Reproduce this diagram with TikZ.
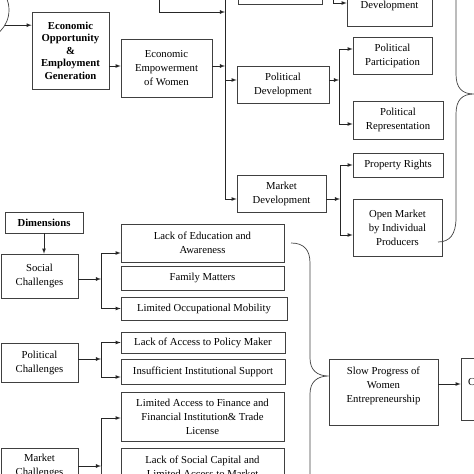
\documentclass[tikz,border=0pt]{standalone}
\usepackage{fontspec}
\setmainfont{Liberation Serif}
\begin{document}
\begin{tikzpicture}
[
x=1pt,y=-1pt,
box/.style={draw=black!75,line width=0.7pt,align=center,inner sep=1pt,font=\fontsize{10.7}{14}\selectfont},
boldbox/.style={box,font=\bfseries\fontsize{10.7}{12.5}\selectfont},
sized/.style 2 args={minimum width=#1pt,minimum height=#2pt},
arr/.style={draw=black!85,line width=0.75pt,-latex},
curly/.style={draw=black!75,line width=0.7pt},
]
\useasboundingbox (0,0) rectangle (474,474);

%Place the nodes
\node[circle,curly,minimum size=60pt,inner sep=0pt] (core) at (-21,10) {};
\node[boldbox,sized={77}{77}] (eog) at (70.5,50.5) {Economic\\Opportunity\\\&\\Employment\\Generation};
\node[box,sized={91}{58}] (eew) at (166.5,68) {Economic\\Empowerment\\of Women};
\node[box,sized={84}{40}] (topbox) at (280,-16) {};
\node[box,sized={85}{46}] (tr) at (389.5,3) {\mbox{}\\Development};
\node[box,sized={92}{37}] (pd) at (283,84.5) {Political\\Development};
\node[box,sized={79}{37}] (pp) at (392.5,55.5) {Political\\Participation};
\node[box,sized={90}{38}] (pr) at (398,120) {Political\\Representation};
\node[box,sized={89}{37}] (md) at (281.5,193.5) {Market\\Development};
\node[box,sized={90}{24}] (prop) at (398,165) {Property Rights};
\node[box,sized={89}{57}] (om) at (397.5,227.5) {Open Market\\by Individual\\Producers};
\node[boldbox,sized={78}{21}] (dim) at (44,222.5) {Dimensions};
\node[box,sized={77}{44}] (sc) at (39.5,276) {Social\\Challenges};
\node[box,sized={77}{39}] (pc) at (39.5,362.5) {Political\\Challenges};
\node[box,sized={77}{36}] (mc) at (39.5,466) {Market\\Challenges};
\node[box,sized={163}{38}] (le) at (202.5,243) {Lack of Education and\\Awareness};
\node[box,sized={163}{24}] (fm) at (202.5,278) {Family Matters};
\node[box,sized={166}{23}] (lom) at (204,308.5) {Limited Occupational Mobility};
\node[box,sized={164}{21}] (lapm) at (203,342.5) {Lack of Access to Policy Maker};
\node[box,sized={164}{25}] (iis) at (203,371.5) {Insufficient Institutional Support};
\node[box,sized={163}{49}] (laf) at (202.5,416.5) {Limited Access to Finance and\\Financial Institution\& Trade\\License};
\node[box,sized={163}{38}] (lsc) at (202.5,467) {Lack of Social Capital and\\Limited Access to Market};
\node[box,sized={109}{66}] (spwe) at (383.5,392) {Slow Progress of\\Women\\Entrepreneurship\\\mbox{}};
\node[box,sized={60}{62},text width=46pt,align=left] (cbox) at (491,389) {C\\\mbox{}};

%Fork points
\coordinate (trunk) at (225,-10);
\coordinate (topin) at (159,-10);
\coordinate (topfork) at (333,-10);
\coordinate (pdfork) at (339,80);
\coordinate (mdfork) at (340,199);
\coordinate (scfork) at (101,279);
\coordinate (pcfork) at (101,359);
\coordinate (mcfork) at (101,466);
\coordinate (mcend) at (101,490);

%Draw the connections
\draw[arr] (core.-30) -- (core.-30 -| eog.west);
\draw[arr] (eog.east |- 0,66) -- (eew.west |- 0,66);
\draw[arr] (eew.east |- 0,66) -- (trunk |- 0,66);
\draw[arr] (topin) |- (trunk |- 0,12);
\draw[arr] (trunk) |- (md.west |- mdfork);
\draw[arr] (trunk |- pdfork) -- (pd.west |- pdfork);
\draw[arr] (topfork) |- (tr.west |- 0,3);
\draw[arr] (pd.east |- pdfork) -- (pdfork);
\draw[arr] (pdfork) |- (pp.west |- 0,49);
\draw[arr] (pdfork) |- (pr.west |- 0,124);
\draw[arr] (md.east |- mdfork) -- (mdfork);
\draw[arr] (mdfork) |- (prop.west);
\draw[arr] (mdfork) |- (om.west |- 0,235);
\draw[arr] (dim.south) -- (dim.south |- sc.north);
\draw[arr] (sc.east |- scfork) -- (scfork);
\draw[arr] (scfork) |- (le.west |- 0,253);
\draw[arr] (scfork) |- (lom.west);
\draw[arr] (pc.east |- pcfork) -- (pcfork);
\draw[arr] (pcfork) |- (lapm.west);
\draw[arr] (pcfork) |- (iis.west |- 0,377);
\draw[arr] (mc.east |- mcfork) -- (mcfork);
\draw[arr] (mcfork) |- (laf.west |- 0,418);
\draw[curly] (mcfork) -- (mcend);
\draw[arr] (spwe.east |- 0,384) -- (cbox.west |- 0,384);

%Braces
\draw[curly] (456,-20) -- (456,74) .. controls (456,88) and (462,94) .. (474,94)
  .. controls (462,94) and (456,100) .. (456,114) -- (456,218)
  .. controls (456,234) and (450,242) .. (438,242);
\draw[curly] (291,243) .. controls (304,243) and (310,250) .. (310,263) -- (310,358)
  .. controls (310,370) and (317,376) .. (spwe.west |- 0,376)
  .. controls (317,376) and (310,382) .. (310,394) -- (310,490);
\end{tikzpicture}
\end{document}
